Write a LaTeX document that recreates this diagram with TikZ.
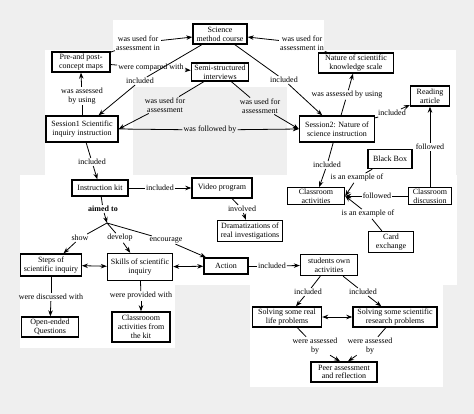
\documentclass[tikz,border=0pt]{standalone}
\usepackage{fontspec}
\setmainfont{Liberation Serif}
\usetikzlibrary{arrows.meta}
\definecolor{pagegray}{RGB}{239,239,239}

\begin{document}
\begin{tikzpicture}[x=1pt, y=-1pt, >={Stealth[length=6pt,width=4.5pt]}, font=\fontsize{8}{8.8}\selectfont]
  \tikzstyle{concept} = [rectangle, draw, line width=1.4pt, fill=white, align=center, inner xsep=3pt, inner ysep=1pt]
  \tikzstyle{link} = [inner sep=1pt, align=center]
  \tikzstyle{line} = [line width=0.8pt]

  % page and white patches
  \fill[pagegray] (0,0) rectangle (474,414);
  \useasboundingbox (0,0) rectangle (474,414);
  \fill[white] (113,20) rectangle (324,50);
  \fill[white] (45,50) rectangle (456,87);
  \fill[white] (45,87) rectangle (133,175);
  \fill[white] (287,87) rectangle (456,175);
  \fill[white] (20,175) rectangle (457,285);
  \fill[white] (20,285) rectangle (175,348);
  \fill[white] (250,285) rectangle (443,387);

  % concepts
  \node[concept, minimum width=54pt, minimum height=20pt] (smc) at (220,34) {Science\\method course};
  \node[concept, minimum width=58pt, minimum height=20pt] (pre) at (81,62) {Pre-and post-\\concept maps};
  \node[concept, minimum width=56pt, minimum height=18pt] (semi) at (220,72) {Semi-structured\\interviews};
  \node[concept, minimum width=72pt, minimum height=26pt] (ses1) at (82,129) {Session1 Scientific\\inquiry instruction};
  \node[concept, minimum width=75pt, minimum height=20pt] (nks) at (356,63) {Nature of scientific\\knowledge scale};
  \node[concept, minimum width=39pt, minimum height=20pt] (read) at (430,96) {Reading\\article};
  \node[concept, minimum width=75pt, minimum height=26pt] (ses2) at (337,129) {Session2: Nature of\\science instruction};
  \node[concept, minimum width=56pt, minimum height=16pt] (kit) at (100,188) {Instruction kit};
  \node[concept, minimum width=60pt, minimum height=20pt] (video) at (222,188) {Video program};
  \node[concept, minimum width=64pt, minimum height=21pt] (drama) at (250,231) {Dramatizations of\\real investigations};
  \node[concept, minimum width=44pt, minimum height=19pt] (bbox) at (390,159) {Black Box};
  \node[concept, minimum width=57pt, minimum height=16pt] (cact) at (316,196) {Classroom\\activities};
  \node[concept, minimum width=43pt, minimum height=16pt] (cdis) at (430,196) {Classroom\\discussion};
  \node[concept, minimum width=45pt, minimum height=21pt] (card) at (391,242) {Card\\exchange};
  \node[concept, minimum width=60pt, minimum height=22pt] (steps) at (51,265) {Steps of\\scientific inquiry};
  \node[concept, minimum width=65pt, minimum height=27pt] (skills) at (140,267) {Skills of scientific\\inquiry};
  \node[concept, minimum width=44pt, minimum height=16pt] (action) at (226,266) {Action};
  \node[concept, minimum width=57pt, minimum height=21pt] (own) at (329,265) {students own\\activities};
  \node[concept, minimum width=57pt, minimum height=20pt] (open) at (50,327) {Open-ended\\Questions};
  \node[concept, minimum width=58pt, minimum height=30pt] (ckit) at (141,327) {Classrooom\\activities from\\the kit};
  \node[concept, minimum width=69pt, minimum height=20pt] (real) at (287,317) {Solving some real\\life problems};
  \node[concept, minimum width=84pt, minimum height=20pt] (research) at (395,317) {Solving some scientific\\research problems};
  \node[concept, minimum width=66pt, minimum height=20pt] (peer) at (344,372) {Peer assessment\\and reflection};

  % linking phrases
  \node[link] (lpre) at (138,43) {was used for\\assessment in};
  \node[link] (lcomp) at (151,68) {were compared with};
  \node[link] (linc1) at (140,81) {included};
  \node[link] (lass1) at (82,96) {was assessed\\by using};
  \node[link] (luse1) at (165,105) {was used for\\assessment};
  \node[link] (luse2) at (260,106) {was used for\\assessment};
  \node[link] (lfol1) at (210,130) {was followed by};
  \node[link] (linc2) at (284,80) {included};
  \node[link] (lnks) at (302,43) {was used for\\assessment in};
  \node[link] (lass2) at (347,95) {was assessed by using};
  \node[link] (linc3) at (392,113) {included};
  \node[link] (lfol2) at (430,147) {followed};
  \node[link] (linc4) at (327,165) {included};
  \node[link] (lex1) at (357,178) {is an example of};
  \node[link] (lfol3) at (377,196) {followed};
  \node[link] (lex2) at (368,214) {is an example of};
  \node[link] (linc5) at (92,162) {included};
  \node[link] (linc6) at (160,188) {included};
  \node[link] (linv) at (242,209) {involved};
  \node[link, font=\fontsize{8}{8.8}\selectfont\bfseries] (laim) at (103,209) {aimed to};
  \coordinate (fork) at (107,223);
  \node[link] (lshow) at (80,238) {show};
  \node[link] (ldev) at (120,238) {develop};
  \node[link] (lenc) at (166,240) {encourage};
  \node[link] (linc7) at (272,266) {included};
  \node[link] (ldisc) at (51,297) {were discussed with};
  \node[link] (lprov) at (141,296) {were provided with};
  \node[link] (linc8) at (308,292) {included};
  \node[link] (linc9) at (363,292) {included};
  \node[link] (lpa1) at (315,346) {were assessed\\by};
  \node[link] (lpa2) at (370,346) {were assessed\\by};

  % connectors
  \draw[line] (pre) -- (lpre);  \draw[->, line] (lpre) -- (smc);
  \draw[line] (pre) -- (lcomp);  \draw[->, line] (lcomp) -- (semi);
  \draw[line] (smc) -- (linc1);  \draw[->, line] (linc1) -- (ses1);
  \draw[line] (ses1.north) -- (lass1);  \draw[->, line] (lass1) -- (pre.south);
  \draw[line] (semi) -- (luse1);  \draw[->, line] (luse1) -- (ses1.east);
  \draw[line] (semi) -- (luse2);  \draw[->, line] (luse2) -- (ses2.west);
  \draw[line] (ses1.east) -- (lfol1);  \draw[->, line] (lfol1) -- (ses2.west);
  \draw[line] (smc) -- (linc2);  \draw[->, line] (linc2) -- (ses2);
  \draw[line] (nks) -- (lnks);  \draw[->, line] (lnks) -- (smc);
  \draw[line] (ses2) -- (lass2);  \draw[->, line] (lass2) -- (nks);
  \draw[line] (ses2) -- (linc3);  \draw[->, line] (linc3) -- (read);
  \draw[line] (cdis) -- (lfol2);  \draw[->, line] (lfol2) -- (read);
  \draw[line] (ses2) -- (linc4);  \draw[->, line] (linc4) -- (cact);
  \draw[line] (bbox) -- (lex1);  \draw[->, line] (lex1) -- (cact.east);
  \draw[line] (cdis) -- (lfol3);  \draw[->, line] (lfol3) -- (cact.east);
  \draw[line] (card) -- (lex2);  \draw[->, line] (lex2) -- (cact.east);
  \draw[line] (ses1) -- (linc5);  \draw[->, line] (linc5) -- (kit);
  \draw[line] (kit) -- (linc6);  \draw[->, line] (linc6) -- (video);
  \draw[line] (video) -- (linv);  \draw[->, line] (linv) -- (drama);
  \draw[line] (kit) -- (laim);  \draw[->, line] (laim) -- (fork);
  \draw[line] (fork) -- (lshow);  \draw[->, line] (lshow) -- (steps);
  \draw[line] (fork) -- (ldev);  \draw[->, line] (ldev) -- (skills);
  \draw[line] (fork) -- (lenc);  \draw[->, line] (lenc) -- (action);
  \draw[<->, line] (steps) -- (skills);
  \draw[<->, line] (skills) -- (action);
  \draw[line] (action) -- (linc7);  \draw[->, line] (linc7) -- (own);
  \draw[line] (steps) -- (ldisc);  \draw[->, line] (ldisc) -- (open);
  \draw[line] (skills) -- (lprov);  \draw[->, line] (lprov) -- (ckit);
  \draw[line] (own) -- (linc8);  \draw[->, line] (linc8) -- (real);
  \draw[line] (own) -- (linc9);  \draw[->, line] (linc9) -- (research);
  \draw[<->, line] (real) -- (research);
  \draw[line] (real) -- (lpa1);  \draw[->, line] (lpa1) -- ([xshift=-4pt]peer.north);
  \draw[line] (research) -- (lpa2);  \draw[->, line] (lpa2) -- ([xshift=4pt]peer.north);
\end{tikzpicture}
\end{document}
